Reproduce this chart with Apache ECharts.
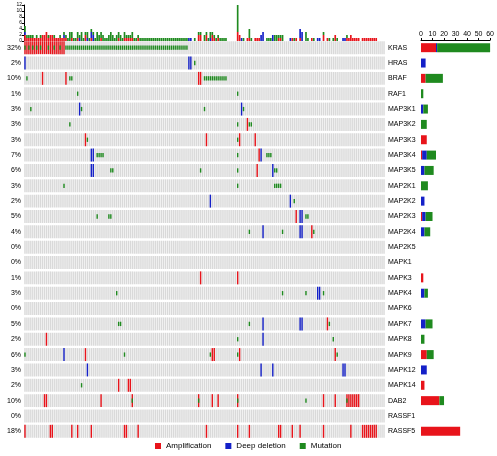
<!DOCTYPE html>
<html>
<head>
<meta charset="utf-8">
<script src="https://cdn.jsdelivr.net/npm/echarts@6/dist/echarts.min.js"></script>
<style>html,body{margin:0;padding:0;background:#fff}#c{width:497px;height:456px}</style>
</head>
<body>
<div id="c"></div>
<script>
const N = 185;
const genes = ["KRAS","HRAS","BRAF","RAF1","MAP3K1","MAP3K2","MAP3K3","MAP3K4","MAP3K5","MAP2K1","MAP2K2","MAP2K3","MAP2K4","MAP2K5","MAPK1","MAPK3","MAPK4","MAPK6","MAPK7","MAPK8","MAPK9","MAPK12","MAPK14","DAB2","RASSF1","RASSF5"];
const pct = ["32%","2%","10%","1%","3%","3%","3%","7%","6%","3%","2%","5%","4%","0%","0%","1%","3%","0%","5%","2%","6%","3%","2%","10%","0%","18%"];

// sample columns with each alteration, per gene (same order as genes)
const ampCols = [
  [0,1,2,3,4,5,6,7,8,9,10,11,12,13,14,15,16,17,18,19,20], [], [9,21,89,90], [], [], [114], [31,93,110,118],
  [120], [119], [], [], [139], [147], [], [], [90,109], [], [], [155], [11], [31,96,97,110,159],
  [], [48,53,54], [10,11,39,55,89,96,99,109,153,159,165,166,167,168,169,170,171], [],
  [0,13,14,24,27,34,51,52,58,93,109,115,130,131,137,141,153,167,173,174,175,176,177,178,179,180]
];
const delCols = [
  [], [0,84,85], [], [], [28,111], [], [], [34,35,121], [34,35,127], [], [95,136], [141,142], [122,141,142],
  [], [], [], [150,151], [], [122,141,142], [122], [20], [32,121,127,163,164], [], [], [], []
];
const mutCols = [
  [0,2,4,6,8,12,15,18,21,22,23,24,25,26,27,28,29,30,31,32,33,34,35,36,37,38,39,40,41,42,43,44,45,46,47,48,49,50,51,52,53,54,55,56,57,58,59,60,61,62,63,64,65,66,67,68,69,70,71,72,73,74,75,76,77,78,79,80,81,82,83],
  [87], [1,23,24,92,93,94,95,96,97,98,99,100,101,102,103], [27,109], [3,29,92,112], [23,109,115,116], [32,109],
  [37,38,39,40,109,124,125,126], [44,45,90,109,128,129], [20,109,128,129,130,131], [138], [37,43,44,144,145],
  [115,132,148], [], [], [], [47,132,144,153], [], [48,49,115,156], [109,158], [0,51,95,109,160], [],
  [29], [55,89,109,144,165], [], []
];

// per-gene totals for the right-hand bar chart
const sideAmp = [13,0,4,0,0,0,5,1,0,0,0,1,0,0,0,2,0,0,0,0,5,0,3,16,0,34];
const sideDel = [1,4,0,0,2,0,0,4,3,0,3,3,3,0,0,0,3,0,4,0,0,5,0,0,0,0];
const sideMut = [46,0,15,2,4,5,0,8,8,6,0,6,5,0,0,0,3,0,6,3,6,0,0,4,0,0];

const RED = "#e8141b", BLUE = "#1420c8", GREEN = "#1f8a1f", GREY = "#d9d9d9";

const cells = [];
for (let g = 0; g < genes.length; g++)
  for (let s = 0; s < N; s++) cells.push([s, g, 0]);
ampCols.forEach((cols, g) => cols.forEach(s => cells.push([s, g, 1])));
delCols.forEach((cols, g) => cols.forEach(s => cells.push([s, g, 2])));
mutCols.forEach((cols, g) => cols.forEach(s => cells.push([s, g, 3])));

// alterations per sample for the top bars
const topAmp = new Array(N).fill(0), topDel = new Array(N).fill(0), topMut = new Array(N).fill(0);
ampCols.forEach(cols => cols.forEach(s => topAmp[s]++));
delCols.forEach(cols => cols.forEach(s => topDel[s]++));
mutCols.forEach(cols => cols.forEach(s => topMut[s]++));

const samples = Array.from({ length: N }, (_, i) => "S" + (i + 1));
const colors = [GREY, RED, BLUE, GREEN];

const chart = echarts.init(document.getElementById("c"));
chart.setOption({
  animation: false,
  textStyle: { fontFamily: "Liberation Sans" },
  grid: [
    { left: 24, width: 361, top: 5, height: 36 },
    { left: 24, width: 361, top: 40, height: 399 },
    { left: 421, width: 71, top: 40, height: 399 }
  ],
  xAxis: [
    { gridIndex: 0, type: "category", data: samples, show: false },
    { gridIndex: 1, type: "category", data: samples, show: false },
    { gridIndex: 2, type: "value", min: 0, max: 60, interval: 10, position: "top",
      axisLine: { show: true, lineStyle: { color: "#000" } }, axisTick: { show: true, length: 2 },
      splitLine: { show: false }, axisLabel: { fontSize: 7, color: "#000", margin: 2 } }
  ],
  yAxis: [
    { gridIndex: 0, type: "value", min: 0, max: 12, interval: 2,
      axisLine: { show: true, lineStyle: { color: "#000" } }, axisTick: { show: true, length: 2 },
      splitLine: { show: false }, axisLabel: { fontSize: 5, color: "#000", margin: 2 } },
    { gridIndex: 1, type: "category", data: genes, inverse: true, position: "left",
      axisLine: { show: false }, axisTick: { show: false },
      axisLabel: { fontSize: 7, color: "#000", margin: 3, formatter: (v, i) => pct[i] } },
    { gridIndex: 1, type: "category", data: genes, inverse: true, position: "right",
      axisLine: { show: false }, axisTick: { show: false },
      axisLabel: { fontSize: 7, color: "#000", margin: 3 } },
    { gridIndex: 2, type: "category", data: genes, inverse: true, show: false }
  ],
  legend: {
    bottom: 1, left: 150, itemWidth: 6, itemHeight: 6, itemGap: 14, icon: "rect",
    textStyle: { fontSize: 8, color: "#000" },
    data: ["Amplification", "Deep deletion", "Mutation"]
  },
  series: [
    { type: "bar", xAxisIndex: 0, yAxisIndex: 0, stack: "top", data: topAmp, barCategoryGap: "15%", itemStyle: { color: RED } },
    { type: "bar", xAxisIndex: 0, yAxisIndex: 0, stack: "top", data: topDel, itemStyle: { color: BLUE } },
    { type: "bar", xAxisIndex: 0, yAxisIndex: 0, stack: "top", data: topMut, itemStyle: { color: GREEN } },
    {
      type: "custom", xAxisIndex: 1, yAxisIndex: 1, data: cells,
      renderItem: function (params, api) {
        const p = api.coord([api.value(0), api.value(1)]);
        const sz = api.size([1, 1]);
        const t = api.value(2);
        const w = Math.max(sz[0] * 0.72, 1);
        let h = sz[1] - 2.4;
        if (t === 3) h = h / 3;
        return { type: "rect", shape: { x: p[0] - w / 2, y: p[1] - h / 2, width: w, height: h },
          style: { fill: colors[t] } };
      }
    },
    { name: "Amplification", type: "bar", xAxisIndex: 2, yAxisIndex: 3, stack: "side", data: sideAmp, barWidth: 9, itemStyle: { color: RED } },
    { name: "Deep deletion", type: "bar", xAxisIndex: 2, yAxisIndex: 3, stack: "side", data: sideDel, barWidth: 9, itemStyle: { color: BLUE } },
    { name: "Mutation", type: "bar", xAxisIndex: 2, yAxisIndex: 3, stack: "side", data: sideMut, barWidth: 9, itemStyle: { color: GREEN } }
  ]
});
</script>
</body>
</html>
